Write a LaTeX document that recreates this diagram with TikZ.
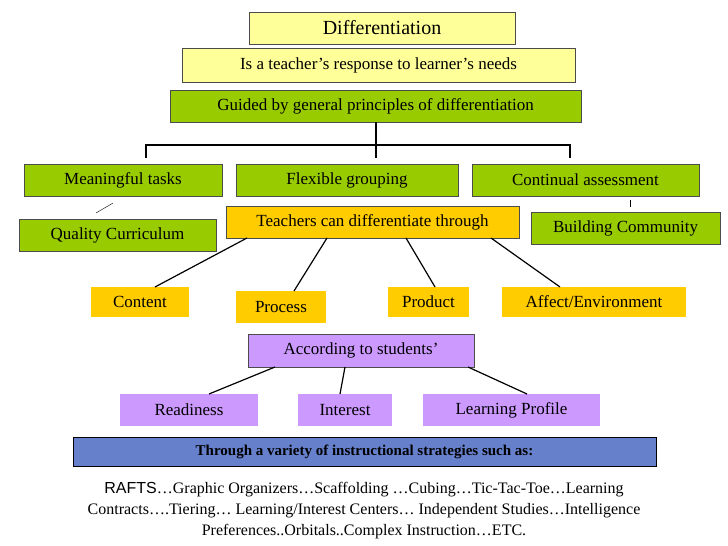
\documentclass[tikz,border=0pt]{standalone}
\usepackage{fontspec}
\setmainfont{Liberation Serif}
\setsansfont{Liberation Sans}
\definecolor{lightyel}{HTML}{FFFF99}
\definecolor{leaf}{HTML}{99CC00}
\definecolor{gold}{HTML}{FFCC00}
\definecolor{lilac}{HTML}{CC99FF}
\definecolor{slate}{HTML}{6680CC}
\begin{document}
\begin{tikzpicture}[x=1pt,y=-1pt,
  box/.style={draw=black!70,inner sep=0pt,font=\fontsize{17}{20}\selectfont},
  link/.style={line width=1.2pt}]
\useasboundingbox (0,0) rectangle (728,546);
%top boxes
\node[box,fill=lightyel,minimum width=266pt,minimum height=32pt,font=\fontsize{20}{24}\selectfont] (diff) at (382,28) {Differentiation};
\node[box,fill=lightyel,minimum width=393pt,minimum height=34pt] (resp) at (378.5,65) {Is a teacher's response to learner's needs};
\node[box,fill=leaf,minimum width=411pt,minimum height=32pt] (guided) at (375.5,106) {Guided by general principles of differentiation};
%principles
\node[box,fill=leaf,minimum width=198pt,minimum height=32pt] (tasks) at (123,180) {Meaningful tasks};
\node[box,fill=leaf,minimum width=222pt,minimum height=32pt] (group) at (347,180) {Flexible grouping};
\node[box,fill=leaf,minimum width=227pt,minimum height=32pt] (assess) at (585.5,180) {Continual assessment};
\node[box,fill=leaf,minimum width=197pt,minimum height=32pt] (curric) at (117.5,235) {Quality Curriculum};
\node[box,fill=leaf,minimum width=189pt,minimum height=32pt] (commun) at (625.5,228) {Building Community};
%bracket
\coordinate (top) at (376,145);
\draw[link] (guided.south -| top) -- (top);
\draw[link] (146,158) |- (570,145) -- (570,158);
\draw[link] (top) -- (376,158);
\draw (113,203) -- (96,213);
\draw (630,200) -- (630,207);
%through
\node[box,fill=gold,minimum width=293pt,minimum height=32pt] (through) at (372.5,222) {Teachers can differentiate through};
\node[box,fill=gold,draw=none,minimum width=98pt,minimum height=30pt] (content) at (140,302) {Content};
\node[box,fill=gold,draw=none,minimum width=90pt,minimum height=32pt] (process) at (281,307) {Process};
\node[box,fill=gold,draw=none,minimum width=81pt,minimum height=30pt] (product) at (428.5,302) {Product};
\node[box,fill=gold,draw=none,minimum width=184pt,minimum height=30pt] (affect) at (594,302) {Affect/Environment};
\draw[link] (247,238) -- (155,287);
\draw[link] (327,238) -- (294,291);
\draw[link] (406,238) -- (435,287);
\draw[link] (491,238) -- (560,287);
%students
\node[box,fill=lilac,minimum width=226pt,minimum height=33pt] (accord) at (361,350.5) {According to students'};
\node[box,fill=lilac,draw=none,minimum width=138pt,minimum height=32pt] (ready) at (189,410) {Readiness};
\node[box,fill=lilac,draw=none,minimum width=94pt,minimum height=32pt] (interest) at (345,410) {Interest};
\node[box,fill=lilac,draw=none,minimum width=177pt,minimum height=32pt] (profile) at (511.5,410) {Learning Profile};
\draw[link] (275,367) -- (209,394);
\draw[link] (345,367) -- (340,394);
\draw[link] (468,367) -- (527,394);
%strategies
\node[box,draw=black,fill=slate,minimum width=583pt,minimum height=29pt,font=\fontsize{15}{18}\selectfont\bfseries] (strat) at (364.5,451.5) {Through a variety of instructional strategies such as:};
\node[align=center,font=\fontsize{16}{21}\selectfont,inner sep=0pt] (list) at (364,511) {{\sffamily RAFTS}\ldots Graphic Organizers\ldots Scaffolding \ldots Cubing\ldots Tic-Tac-Toe\ldots Learning\\
Contracts\ldots.Tiering\ldots\ Learning/Interest Centers\ldots\ Independent Studies\ldots Intelligence\\
Preferences..Orbitals..Complex Instruction\ldots ETC.};
\end{tikzpicture}
\end{document}
